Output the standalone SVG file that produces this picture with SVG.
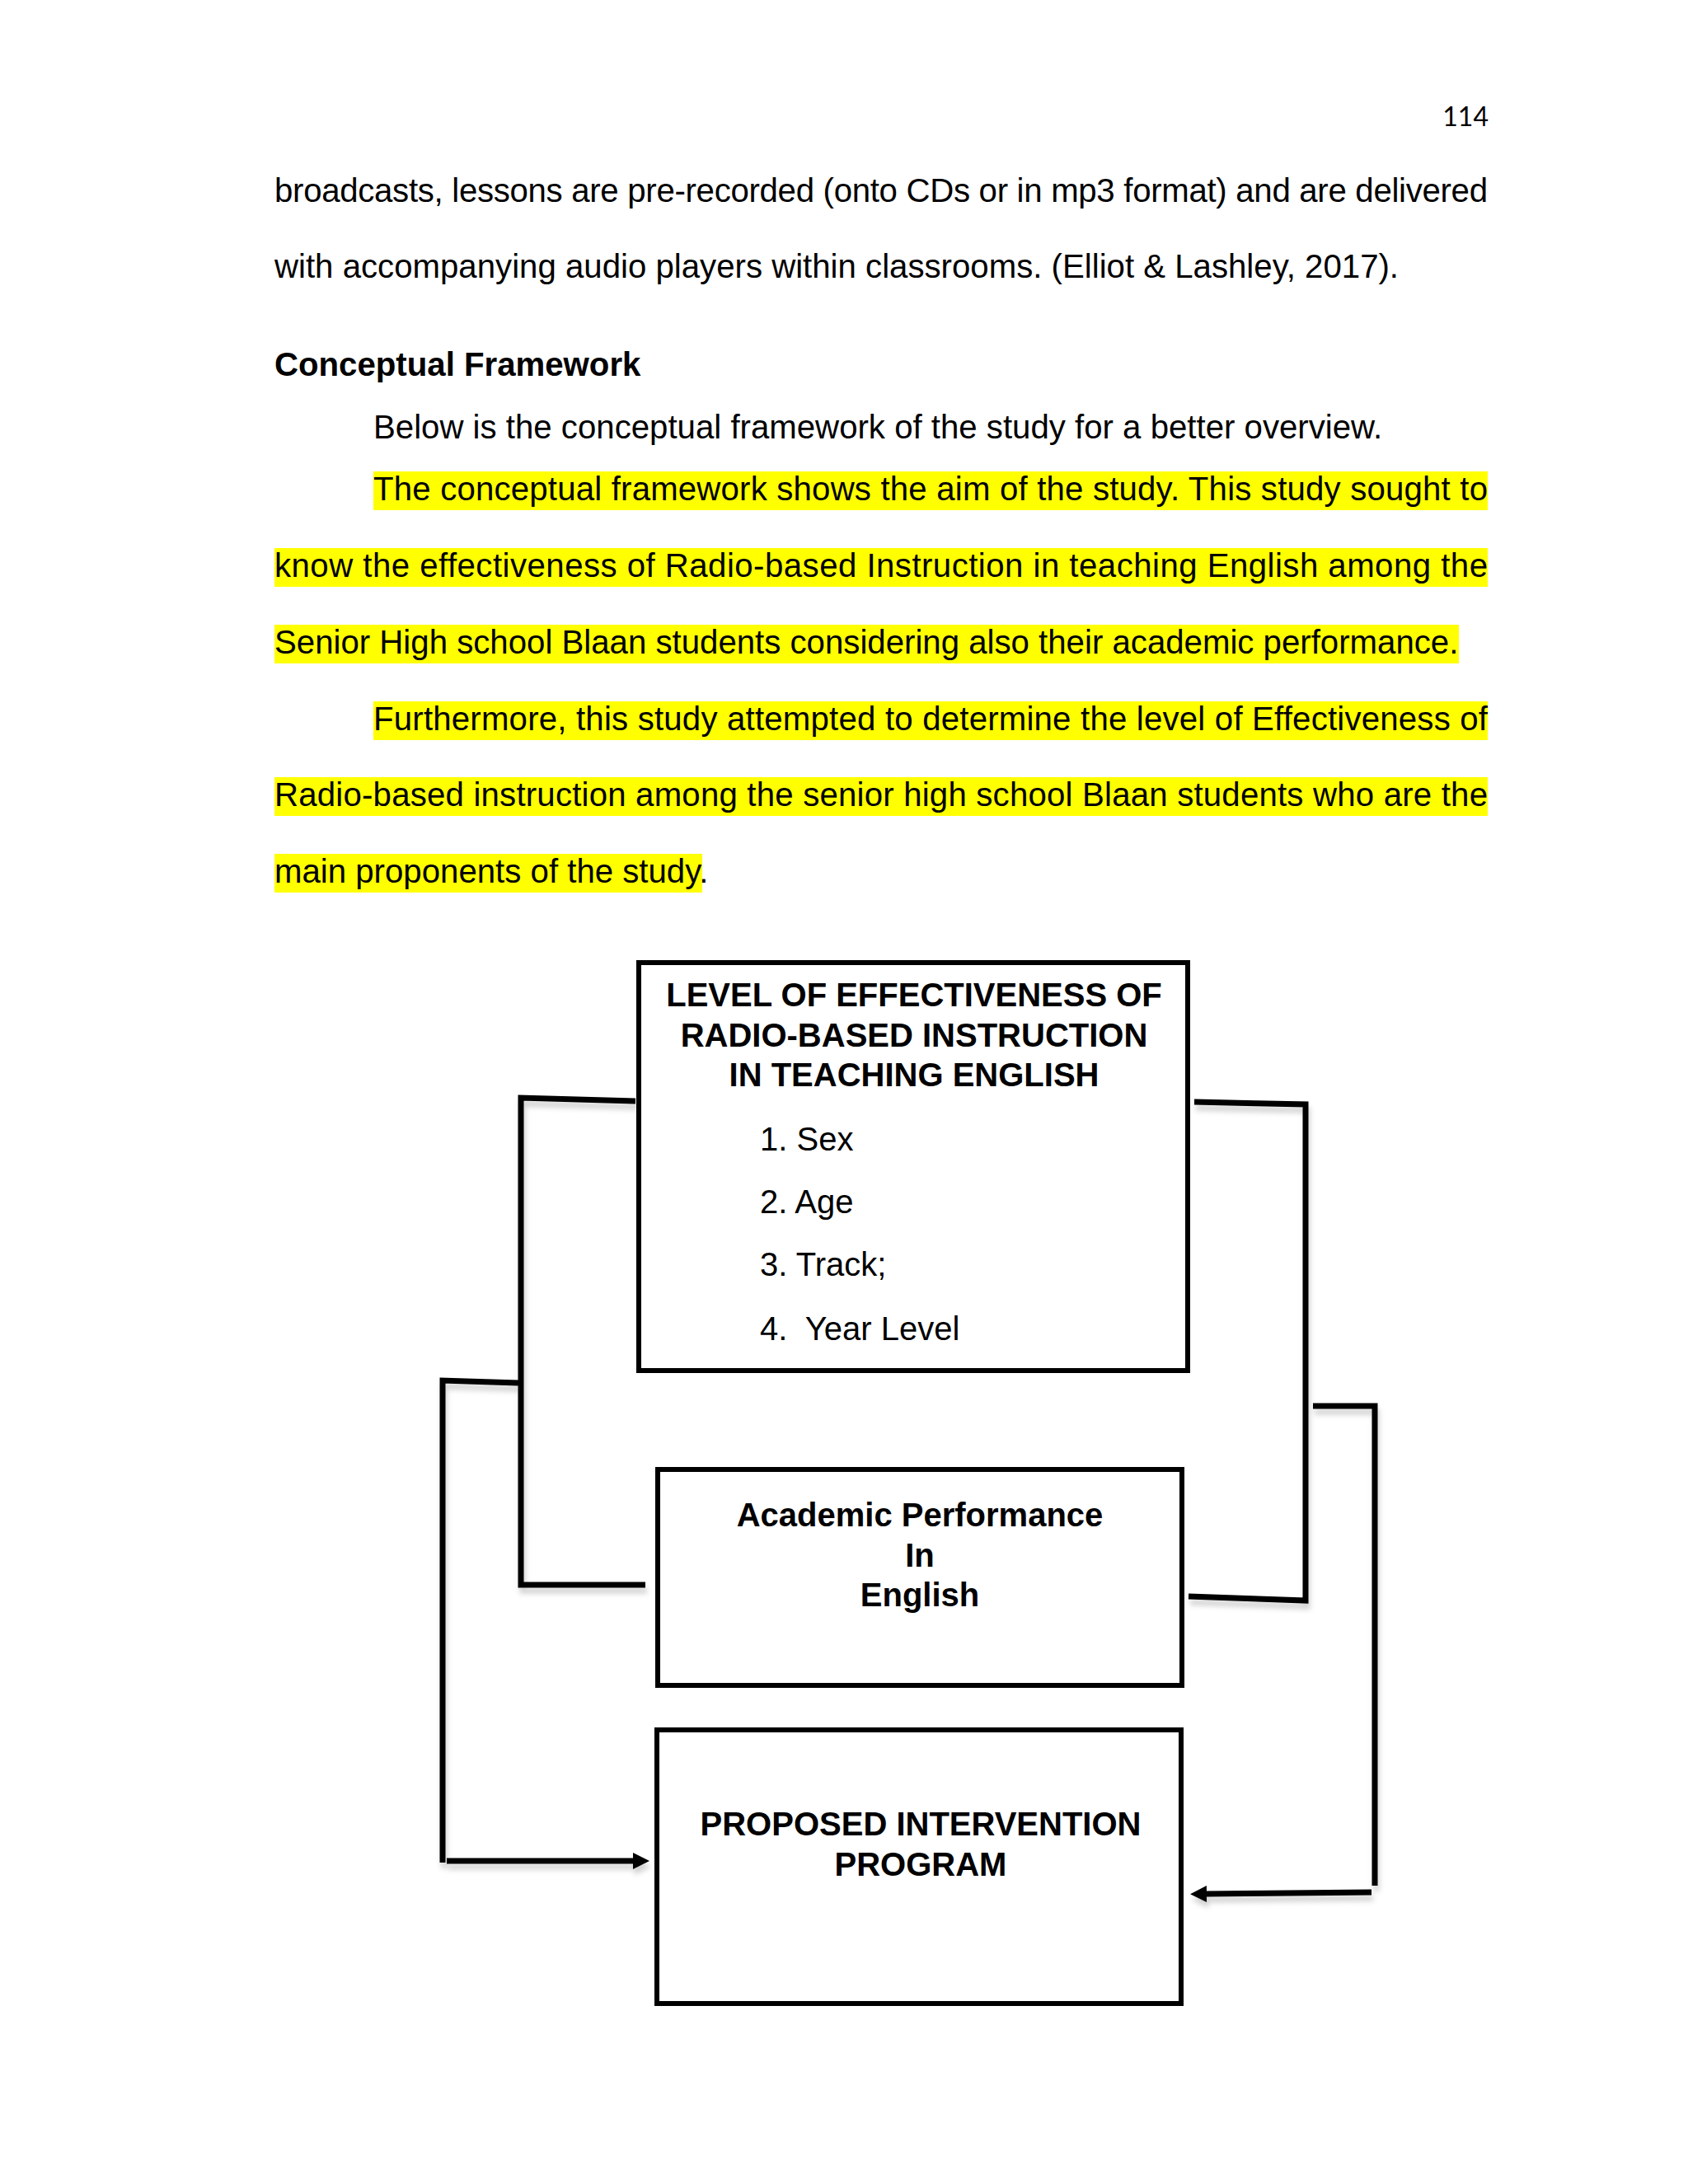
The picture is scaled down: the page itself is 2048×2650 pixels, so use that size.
<svg xmlns="http://www.w3.org/2000/svg" width="2048" height="2650" viewBox="0 0 2048 2650">
<style>
.body{font-family:"Liberation Sans",Arial,sans-serif;font-size:40.2px;fill:#000}
.bold{font-family:"Liberation Sans",Arial,sans-serif;font-size:40px;font-weight:bold;fill:#000}
.item{font-family:"Liberation Sans",Arial,sans-serif;font-size:40px;fill:#000}
.hl{fill:#FFFF00}
.box{fill:none;stroke:#000;stroke-width:6}
.conn{fill:none;stroke:#000;stroke-width:7;stroke-linejoin:miter}
</style>
<defs>
<filter id="sh" x="-10%" y="-10%" width="120%" height="120%">
<feDropShadow dx="2" dy="7" stdDeviation="3" flood-color="#000" flood-opacity="0.18"/>
</filter>
<marker id="arr" markerUnits="userSpaceOnUse" markerWidth="22" markerHeight="22" refX="0" refY="10" orient="auto">
<path d="M0,0 L20,10 L0,20 z" fill="#000"/>
</marker>
</defs>
<rect x="0" y="0" width="2048" height="2650" fill="#fff"/>

<g id="page-text">
<text x="1806" y="153" text-anchor="end" style="font-family:Lato,'Open Sans',sans-serif;font-size:32px">114</text>
<text class="body" x="333" y="245" textLength="1472" lengthAdjust="spacing">broadcasts, lessons are pre-recorded (onto CDs or in mp3 format) and are delivered</text>
<text class="body" x="333" y="337">with accompanying audio players within classrooms. (Elliot &amp; Lashley, 2017).</text>
<text class="body" x="333" y="456" font-weight="bold">Conceptual Framework</text>
<text class="body" x="453" y="532">Below is the conceptual framework of the study for a better overview.</text>
<rect class="hl" x="453" y="572" width="1352" height="47"/>
<rect class="hl" x="333" y="665" width="1472" height="47"/>
<rect class="hl" x="333" y="758" width="1437" height="47"/>
<rect class="hl" x="453" y="851" width="1352" height="47"/>
<rect class="hl" x="333" y="943" width="1472" height="47"/>
<rect class="hl" x="333" y="1036" width="519" height="47"/>
<text class="body" x="453" y="607" textLength="1352" lengthAdjust="spacing">The conceptual framework shows the aim of the study. This study sought to</text>
<text class="body" x="333" y="700" textLength="1472" lengthAdjust="spacing">know the effectiveness of Radio-based Instruction in teaching English among the</text>
<text class="body" x="333" y="793">Senior High school Blaan students considering also their academic performance.</text>
<text class="body" x="453" y="886" textLength="1352" lengthAdjust="spacing">Furthermore, this study attempted to determine the level of Effectiveness of</text>
<text class="body" x="333" y="978" textLength="1472" lengthAdjust="spacing">Radio-based instruction among the senior high school Blaan students who are the</text>
<text class="body" x="333" y="1071">main proponents of the study.</text>
</g>

<g id="connectors" filter="url(#sh)">
<polyline class="conn" points="771,1336 632,1332 632,1923 783,1923"/>
<polyline class="conn" points="1449,1337 1584,1340 1584,1942 1442,1937"/>
<polyline class="conn" points="629,1678 537,1675 537,2260"/>
<line class="conn" x1="542" y1="2258" x2="768" y2="2258" marker-end="url(#arr)"/>
<polyline class="conn" points="1593,1706 1668,1706 1668,2288"/>
<line class="conn" x1="1664" y1="2296" x2="1464" y2="2298" marker-end="url(#arr)"/>
</g>

<g id="node-level">
<rect class="box" x="775" y="1168" width="666" height="495"/>
<text class="bold" x="1109" y="1221" text-anchor="middle">LEVEL OF EFFECTIVENESS OF</text>
<text class="bold" x="1109" y="1270" text-anchor="middle">RADIO-BASED INSTRUCTION</text>
<text class="bold" x="1109" y="1318" text-anchor="middle">IN TEACHING ENGLISH</text>
<text class="item" x="922" y="1396">1. Sex</text>
<text class="item" x="922" y="1472">2. Age</text>
<text class="item" x="922" y="1548">3. Track;</text>
<text class="item" x="922" y="1626" xml:space="preserve">4.  Year Level</text>
</g>

<g id="node-academic">
<rect class="box" x="798" y="1783" width="636" height="262"/>
<text class="bold" x="1116" y="1852" text-anchor="middle">Academic Performance</text>
<text class="bold" x="1116" y="1901" text-anchor="middle">In</text>
<text class="bold" x="1116" y="1949" text-anchor="middle">English</text>
</g>

<g id="node-program">
<rect class="box" x="797" y="2099" width="636" height="332"/>
<text class="bold" x="1117" y="2227" text-anchor="middle">PROPOSED INTERVENTION</text>
<text class="bold" x="1117" y="2276" text-anchor="middle">PROGRAM</text>
</g>
</svg>
